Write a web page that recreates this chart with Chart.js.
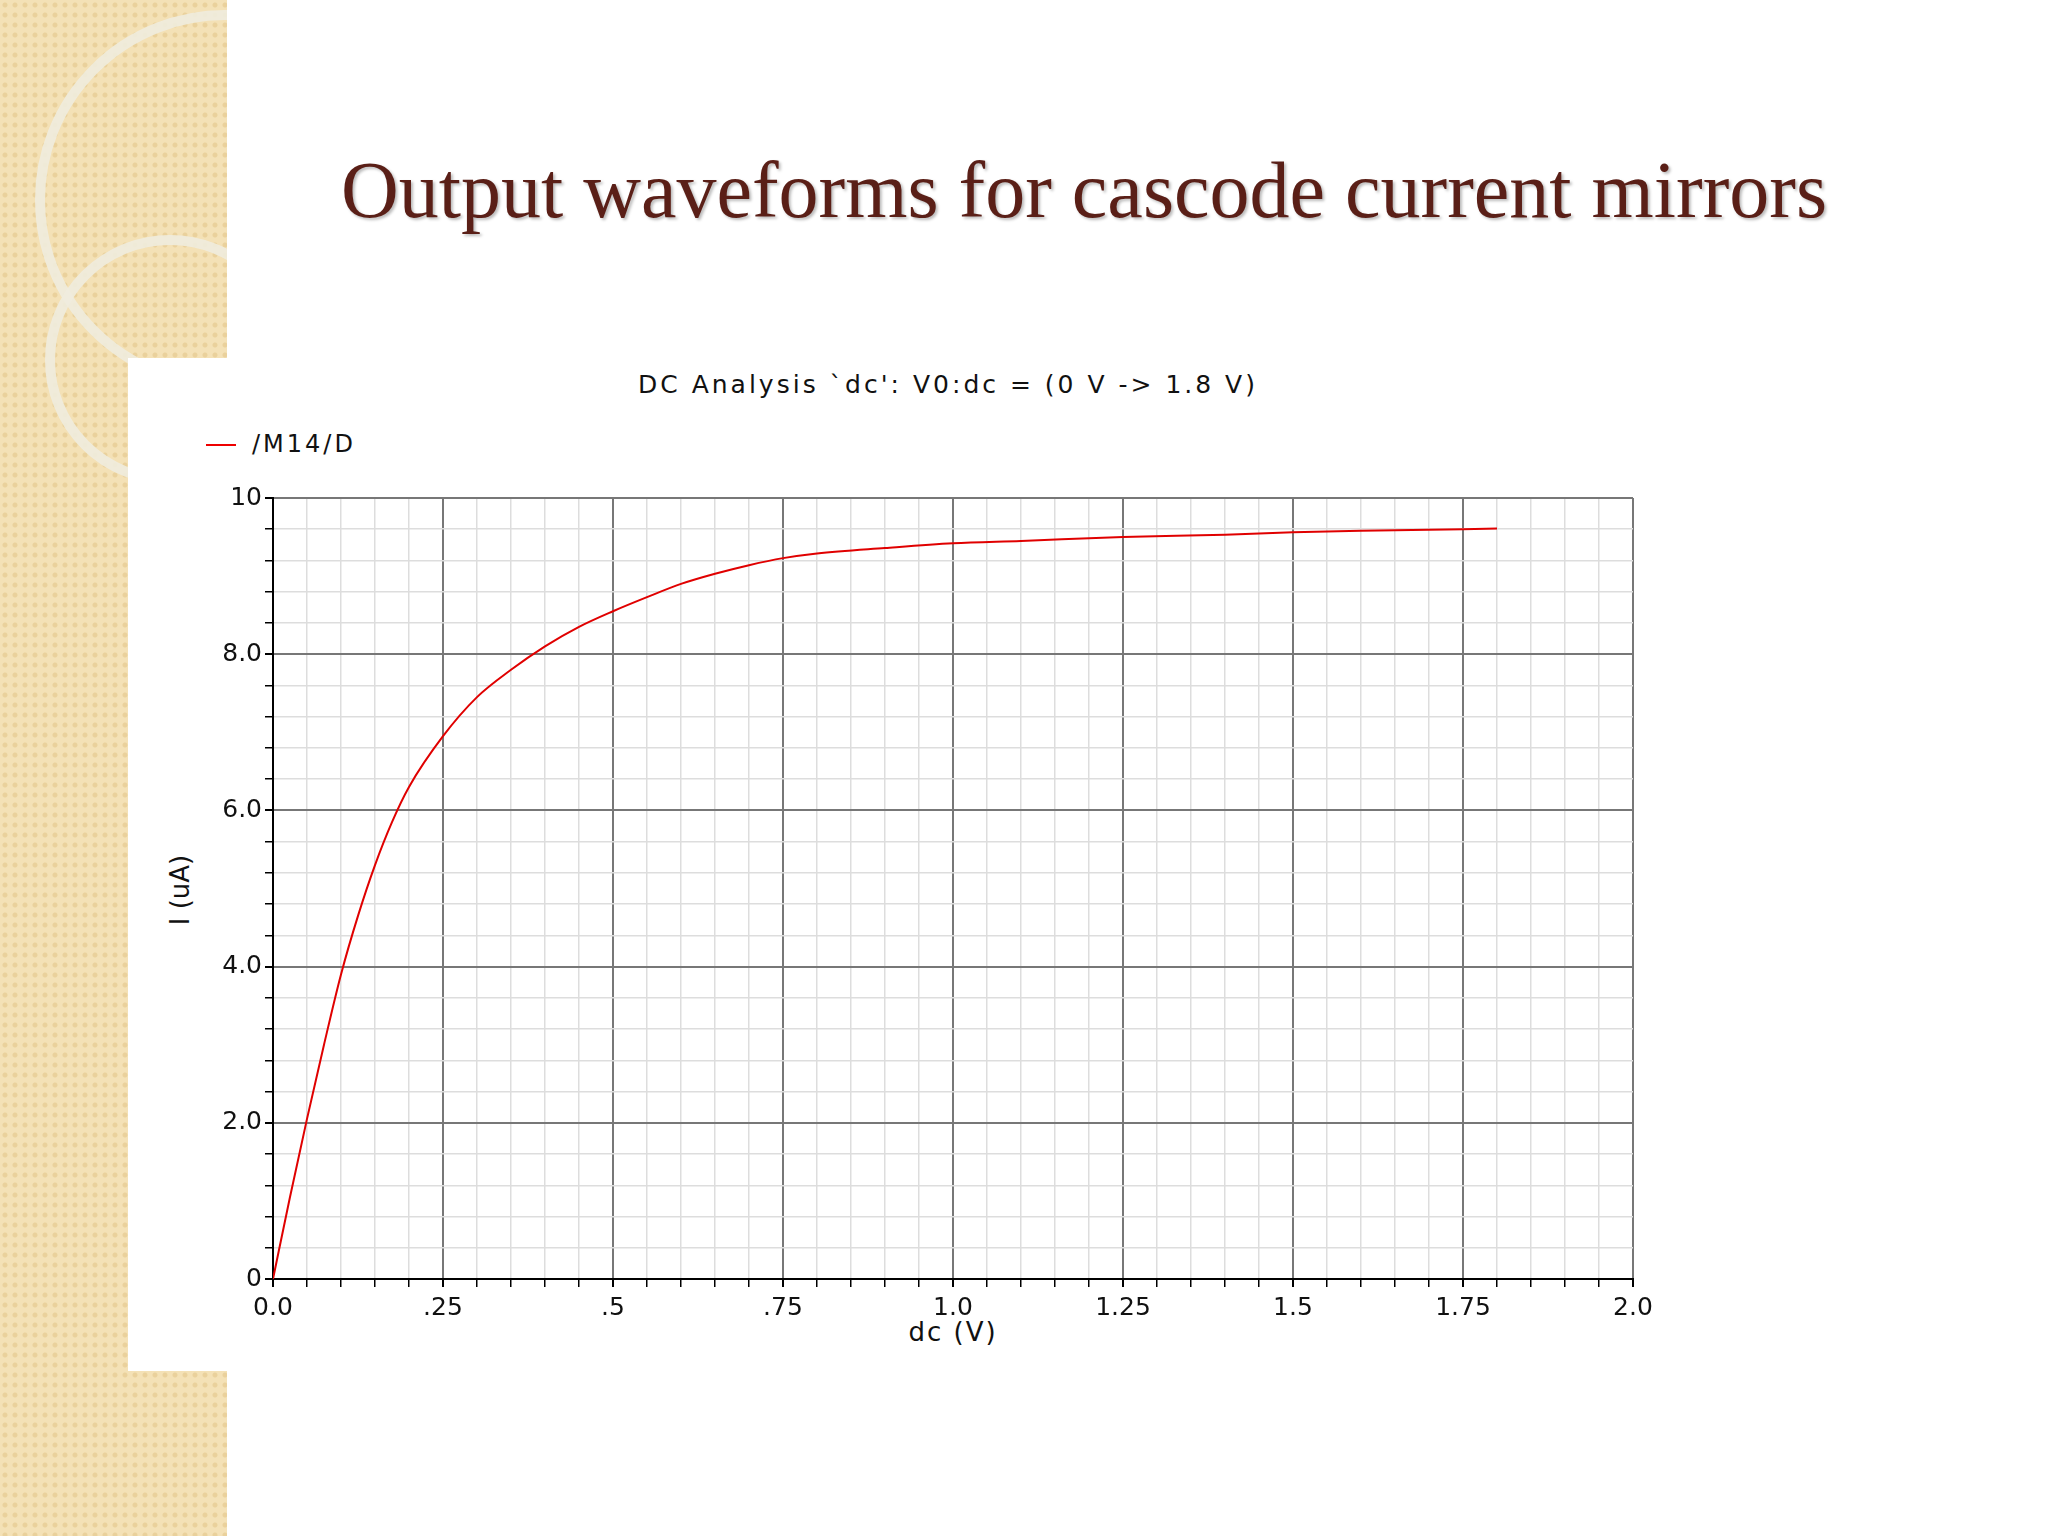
<!DOCTYPE html>
<html><head><meta charset="utf-8">
<script src="https://cdn.jsdelivr.net/npm/chart.js@4/dist/chart.umd.min.js"></script>
<style>
body{margin:0;width:2048px;height:1536px;background:#fff;position:relative;overflow:hidden;font-family:"DejaVu Sans";}
#strip{position:absolute;left:0;top:0;width:227px;height:1536px;background:#f4e1b6;
background-image:radial-gradient(#ead19c 2px,transparent 3px);background-size:10px 10px;overflow:hidden;}
.ring{position:absolute;border-radius:50%;border:10px solid rgba(240,236,222,0.9);}
#panel{position:absolute;left:128px;top:358px;width:1600px;height:1013px;background:#fff;}
#title{position:absolute;left:0;width:2168px;top:145px;text-align:center;font-family:"Liberation Serif";font-size:80px;color:#5a1f17;text-shadow:2px 2px 3px #bbb;}
#ct{position:absolute;left:128px;width:1640px;top:370px;text-align:center;font-family:"DejaVu Sans";font-size:25px;letter-spacing:3px;color:#111;}
#lg{position:absolute;left:206px;top:430px;font-size:24px;letter-spacing:3px;color:#111;}
#lg span{display:inline-block;width:30px;height:2px;background:#e00;vertical-align:middle;margin-right:16px;}
#yl{position:absolute;left:165px;top:890px;font-size:26px;color:#111;}
#xl{position:absolute;left:853px;width:200px;top:1317px;text-align:center;font-size:26px;letter-spacing:2px;color:#111;}
#c{position:absolute;left:128px;top:358px;}
</style></head><body>
<div id="strip">
<div class="ring" style="left:35px;top:10px;width:360px;height:360px;"></div>
<div class="ring" style="left:45px;top:235px;width:230px;height:230px;"></div>
</div>
<div id="panel"></div>
<div id="title">Output waveforms for cascode current mirrors</div>
<div id="ct">DC Analysis `dc': V0:dc = (0 V -&gt; 1.8 V)</div>
<div id="lg"><span></span>/M14/D</div>
<div id="yl" style="transform-origin:left top;transform:rotate(-90deg) translate(-50%,0)">I (uA)</div>
<div id="xl">dc (V)</div>
<canvas id="c" width="1600" height="1013"></canvas>
<script>
const vdc=[0,0.025,0.05,0.075,0.1,0.125,0.15,0.175,0.2,0.25,0.3,0.35,0.4,0.45,0.5,0.55,0.6,0.65,0.7,0.75,0.8,0.9,1.0,1.1,1.25,1.4,1.5,1.6,1.75,1.8];
const current=[0,1.05,2.05,3.0,3.9,4.65,5.3,5.85,6.3,6.95,7.45,7.8,8.1,8.35,8.55,8.73,8.9,9.03,9.14,9.23,9.29,9.36,9.42,9.45,9.5,9.53,9.56,9.58,9.6,9.61];
const xTickLabels={0:"0.0",0.25:".25",0.5:".5",0.75:".75",1:"1.0",1.25:"1.25",1.5:"1.5",1.75:"1.75",2:"2.0"};
const yTickLabels={0:"0",2:"2.0",4:"4.0",6:"6.0",8:"8.0",10:"10"};
const isMaj=(v,s)=>Math.abs(v/s-Math.round(v/s))<1e-6;
const font={family:"DejaVu Sans",size:25};
new Chart(document.getElementById('c'),{type:'line',
data:{datasets:[{data:vdc.map((x,i)=>({x,y:current[i]})),borderColor:'#e00000',borderWidth:2,pointRadius:0,cubicInterpolationMode:'monotone',fill:false}]},
options:{responsive:false,animation:false,
layout:{padding:{top:140,right:95,left:0,bottom:0}},
plugins:{legend:{display:false},tooltip:{enabled:false}},
scales:{
x:{type:'linear',min:0,max:2,afterFit:s=>{s.height=92;},
 ticks:{stepSize:0.05,autoSkip:false,maxRotation:0,color:'#111',font,padding:6,
  callback:v=>{for(const k in xTickLabels){if(Math.abs(v-k)<1e-6)return xTickLabels[k];}return '';}},
 border:{color:'#000',width:2},
 grid:{color:c=>isMaj(c.tick.value,0.25)?'#777':'#ddd',lineWidth:c=>isMaj(c.tick.value,0.25)?2:1.5,tickLength:8,tickColor:'#000'}},
y:{min:0,max:10,afterFit:s=>{s.width=145;},
 ticks:{stepSize:0.4,autoSkip:false,color:'#111',font,
  callback:v=>{for(const k in yTickLabels){if(Math.abs(v-k)<1e-6)return yTickLabels[k];}return '';}},
 border:{color:'#000',width:2},
 grid:{color:c=>isMaj(c.tick.value,2)?'#777':'#ddd',lineWidth:c=>isMaj(c.tick.value,2)?2:1.5,tickLength:8,tickColor:'#000'}}
}}});
</script>
</body></html>
